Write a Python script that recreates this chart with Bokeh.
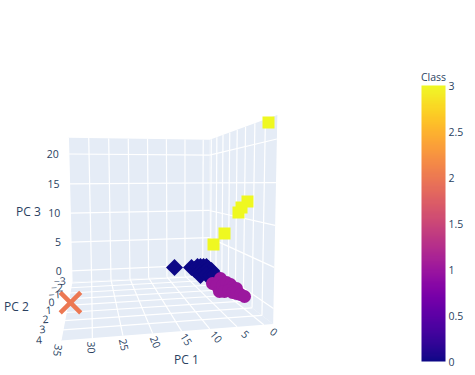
import numpy as np
from bokeh.plotting import figure
from bokeh.models import ColumnDataSource, LinearColorMapper, ColorBar, FixedTicker
from bokeh.palettes import Plasma256
from bokeh.embed import file_html
from bokeh.resources import INLINE
from bokeh.core.properties import value

# Chart values (PC 1, PC 2, PC 3 per class)
c0_pc1=[10.41,6.21,5.46,4.71,3.96,3.20,2.45,4.20,3.95,2.95,1.94,1.17,2.44,1.42,0.40]
c0_pc2=[-0.8]*15
c0_pc3=[1.49,1.36,1.01,1.48,1.46,1.44,1.41,0.48,-0.03,0.60,1.07,0.71,0.09,-0.11,0.02]
c1_pc1=[4.13,5.82,4.97,4.32,3.69,2.83,1.97,1.53,0.66,3.25,2.39,1.52,0.65,-0.23,-1.11]
c1_pc2=[2.5]*15
c1_pc3=[1.97,1.34,1.03,0.17,0.98,1.37,1.06,0.62,0.45,0.13,0.23,-0.08,-0.26,-0.43,-0.75]
c2_pc1=[33.87]
c2_pc2=[3.0]
c2_pc3=[0.35]
c3_pc1=[-1.09,8.81,6.81,4.26,3.71,2.61]
c3_pc2=[4.6]*6
c3_pc3=[22.05,7.79,9.06,11.51,12.09,12.79]
PC1_TICKS=[0,5,10,15,20,25,30,35]
PC2_TICKS=[-3,-2,-1,0,1,2,3,4]
PC3_TICKS=[0,5,10,15,20]
PC1_R=(-1.8,35.0); PC2_R=(-3.3,5.0); PC3_R=(-1.9,22.7)
CB_TICKS=[0,0.5,1,1.5,2,2.5,3]

# Camera: solved from where the box corners fall in the picture
cam3=[(35,5,-1.9),(-1.8,5,-1.9),(35,-3.3,-1.9),(-1.8,-3.3,-1.9),(35,-3.3,22.7),(-1.8,-3.3,22.7),(-1.8,5,22.7)]
cam2=[(61,339),(272,325),(71,282),(209,273),(68,137),(209,140),(277,114)]
A=[]
for (x,y,z),(u,v) in zip(cam3,cam2):
    A.append([x,y,z,1,0,0,0,0,-u*x,-u*y,-u*z,-u])
    A.append([0,0,0,0,x,y,z,1,-v*x,-v*y,-v*z,-v])
P=np.linalg.svd(np.array(A,float))[2][-1].reshape(3,4)
def proj(x,y,z):
    x,y,z=np.asarray(x,float),np.asarray(y,float),np.asarray(z,float)
    w=P[2,0]*x+P[2,1]*y+P[2,2]*z+P[2,3]
    return (P[0,0]*x+P[0,1]*y+P[0,2]*z+P[0,3])/w,(P[1,0]*x+P[1,1]*y+P[1,2]*z+P[1,3])/w

FONT=value("Open Sans"); TXT="#2a3f5f"
p=figure(width=470,height=370,x_range=(0,470),y_range=(370,0),toolbar_location=None,output_backend="svg",min_border=0,outline_line_color=None)
p.axis.visible=False; p.grid.visible=False
x0,x1=PC1_R;y0,y1=PC2_R;z0,z1=PC3_R
for pts in [([x1,x0,x0,x1],[y0,y0,y0,y0],[z0,z0,z1,z1]),([x0,x0,x0,x0],[y0,y1,y1,y0],[z0,z0,z1,z1]),([x1,x0,x0,x1],[y0,y0,y1,y1],[z0,z0,z0,z0])]:
    p.patch(*proj(*pts),color="#e5ecf6",line_width=0)
xs=[];ys=[]
def seg(a,b):
    u,v=proj([a[0],b[0]],[a[1],b[1]],[a[2],b[2]]);xs.append(list(u));ys.append(list(v))
for t in PC1_TICKS:
    seg((t,y0,z0),(t,y0,z1));seg((t,y0,z0),(t,y1,z0))
for t in PC2_TICKS:
    seg((x0,t,z0),(x0,t,z1));seg((x1,t,z0),(x0,t,z0))
for t in PC3_TICKS:
    seg((x1,y0,t),(x0,y0,t));seg((x0,y0,t),(x0,y1,t))
p.multi_line(xs,ys,line_color="white",line_width=1.2)
mapper=LinearColorMapper(palette=Plasma256,low=0,high=3)
def src(c,X,Y,Z):
    u,v=proj(X,Y,Z)
    return ColumnDataSource(dict(u=u,v=v,c=[c]*len(u)))
tf={"field":"c","transform":mapper}
p.scatter("u","v",source=src(2,c2_pc1,c2_pc2,c2_pc3),marker="x",size=29,line_color=tf,line_width=4.5)
p.scatter("u","v",source=src(3,c3_pc1,c3_pc2,c3_pc3),marker="square",size=12,fill_color=tf,line_color=None)
p.scatter("u","v",source=src(0,c0_pc1,c0_pc2,c0_pc3),marker="square",size=12,angle=np.pi/4,fill_color=tf,line_color=None)
p.scatter("u","v",source=src(1,c1_pc1,c1_pc2,c1_pc3),marker="circle",size=13,fill_color=tf,line_color=None)
n=len(PC1_TICKS)
u,v=proj(PC1_TICKS,[y1]*n,[z0]*n); f=(u-u.min())/(u.max()-u.min())
ga,gb=proj(PC1_TICKS,[y0]*n,[z0]*n); ang=-np.arctan2(v-gb,u-ga)
p.text(u-3+13*f, v+10-3*f, text=[str(t) for t in PC1_TICKS], angle=ang, text_font=FONT,text_font_size="10.5px",text_color=TXT,text_align="center",text_baseline="middle")
lab=[("−%d"%-t if t<0 else str(t)) for t in PC2_TICKS]
n=len(PC2_TICKS)
u,v=proj([x1]*n,PC2_TICKS,[z0]*n); f=(np.array(PC2_TICKS)+3)/7
ga,gb=proj([x0]*n,PC2_TICKS,[z0]*n); ang=-np.arctan2(gb-v,ga-u)
p.text(u-12-12*f, v-2+12*f, text=lab, angle=ang, text_font=FONT,text_font_size="10.5px",text_color=TXT,text_align="center",text_baseline="middle")
n=len(PC3_TICKS)
u,v=proj([x1]*n,[y0]*n,PC3_TICKS)
p.text(u-10, v, text=[str(t) for t in PC3_TICKS], text_font=FONT,text_font_size="10.5px",text_color=TXT,text_align="right",text_baseline="middle")
p.text([186,16,28,433],[359,306,211,76],text=["PC 1","PC 2","PC 3","Class"],text_font=FONT,text_font_size=["12px","12px","12px","10.5px"],text_color=TXT,text_align="center",text_baseline="middle")
cb=ColorBar(color_mapper=mapper,location=(421,9),width=24,height=276,padding=0,margin=0,ticker=FixedTicker(ticks=CB_TICKS),major_label_overrides={t:str(t) for t in CB_TICKS},major_label_text_font="Open Sans",major_label_text_font_size="10.5px",major_label_text_color=TXT,major_tick_line_color=None,minor_tick_line_color=None,bar_line_color=None,border_line_color=None,background_fill_color=None,label_standoff=3)
p.add_layout(cb,"center")
open("out.html","w").write(file_html(p,INLINE))
